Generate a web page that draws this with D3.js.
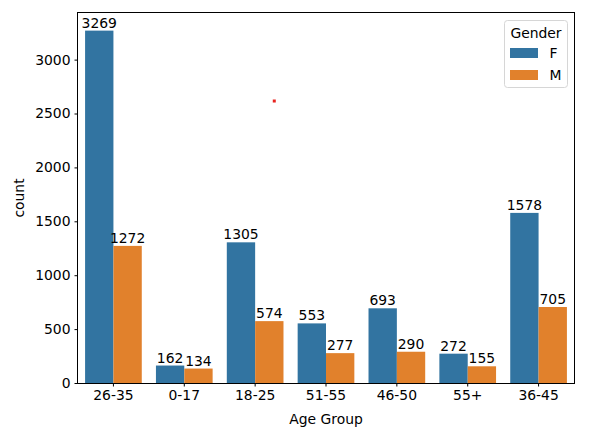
<!DOCTYPE html>
<html>
<head>
<meta charset="utf-8">
<script src="https://cdn.jsdelivr.net/npm/d3@7"></script>
<style>
  body { margin: 0; background: #fff; }
  svg text { font-family: "DejaVu Sans", sans-serif; fill: #000; }
</style>
</head>
<body>
<div id="chart"></div>
<script>
// Age group counts by gender

const ageGroups = ["26-35", "0-17", "18-25", "51-55", "46-50", "55+", "36-45"];
const genders = ["F", "M"];
const femaleCounts = [3269, 162, 1305, 553, 693, 272, 1578];
const maleCounts = [1272, 134, 574, 277, 290, 155, 705];
const yTicks = [0, 500, 1000, 1500, 2000, 2500, 3000];
// stray red marker in the picture (category position, count)
const strayPoint = [2.27, 2616];

const colors = {F: "#3274a1", M: "#e1812c"};
const fontSize = "13.9px";

const width = 591, height = 437;
const margin = {top: 13, right: 17, bottom: 54, left: 78};
const innerW = width - margin.left - margin.right;
const innerH = height - margin.top - margin.bottom;

const svg = d3.select("#chart").append("svg")
    .attr("width", width)
    .attr("height", height);

const g = svg.append("g")
    .attr("transform", "translate(" + margin.left + "," + margin.top + ")");

// scales
const x = d3.scaleBand()
    .domain(ageGroups)
    .range([0, innerW])
    .paddingInner(0.2)
    .paddingOuter(0.1);

const xHue = d3.scaleBand()
    .domain(genders)
    .range([0, x.bandwidth()]);

const xLin = d3.scaleLinear()
    .domain([-0.5, ageGroups.length - 0.5])
    .range([0, innerW]);

const yMax = d3.max(femaleCounts.concat(maleCounts)) * 1.05;
const y = d3.scaleLinear()
    .domain([0, yMax])
    .range([innerH, 0]);

// bars
const rows = ageGroups.map((a, i) => ({group: a, F: femaleCounts[i], M: maleCounts[i]}));

const groups = g.selectAll(".grp").data(rows)
    .enter()
    .append("g")
    .attr("class", "grp")
    .attr("transform", d => "translate(" + x(d.group) + ",0)");

const cells = groups.selectAll(".bar")
    .data(d => genders.map(k => ({key: k, value: d[k]})))
    .enter();

cells.append("rect")
    .attr("class", "bar")
    .attr("x", d => xHue(d.key))
    .attr("width", xHue.bandwidth())
    .attr("y", d => y(d.value))
    .attr("height", d => innerH - y(d.value))
    .attr("fill", d => colors[d.key]);

cells.append("text")
    .attr("x", d => xHue(d.key) + xHue.bandwidth() / 2)
    .attr("y", d => y(d.value) - 3)
    .attr("text-anchor", "middle")
    .attr("font-size", fontSize)
    .text(d => d.value);

// stray point
g.append("rect")
    .attr("x", xLin(strayPoint[0]) - 1.5)
    .attr("y", y(strayPoint[1]) - 1.5)
    .attr("width", 3)
    .attr("height", 3)
    .attr("fill", "#e8231f");

// axes
const xAxis = g.append("g")
    .attr("transform", "translate(0," + innerH + ")")
    .call(d3.axisBottom(x).tickSize(3.5).tickPadding(4));

const yAxis = g.append("g")
    .call(d3.axisLeft(y).tickValues(yTicks).tickFormat(d3.format("d")).tickSize(3.5).tickPadding(4));

[xAxis, yAxis].forEach(a => {
    a.selectAll("text").attr("font-size", fontSize).attr("font-family", "DejaVu Sans");
    a.selectAll("line").attr("stroke", "#000").attr("stroke-width", 1);
    a.select(".domain").remove();
});

// frame
g.append("rect")
    .attr("x", -0.5)
    .attr("y", -0.5)
    .attr("width", innerW + 1)
    .attr("height", innerH + 1)
    .attr("fill", "none")
    .attr("stroke", "#000")
    .attr("stroke-width", 1)
    .attr("shape-rendering", "crispEdges");

// axis titles
svg.append("text")
    .attr("x", margin.left + innerW / 2)
    .attr("y", 424)
    .attr("text-anchor", "middle")
    .attr("font-size", fontSize)
    .text("Age Group");

svg.append("text")
    .attr("transform", "translate(24," + (margin.top + innerH / 2) + ") rotate(-90)")
    .attr("text-anchor", "middle")
    .attr("font-size", fontSize)
    .text("count");

// legend
const legend = svg.append("g")
    .attr("transform", "translate(504.5,20.5)");

legend.append("rect")
    .attr("width", 63)
    .attr("height", 67)
    .attr("rx", 3)
    .attr("fill", "#fff")
    .attr("fill-opacity", 0.8)
    .attr("stroke", "#d6d6d6")
    .attr("stroke-width", 1);

legend.append("text")
    .attr("x", 31.5)
    .attr("y", 17)
    .attr("text-anchor", "middle")
    .attr("font-size", fontSize)
    .text("Gender");

genders.forEach((k, i) => {
    legend.append("rect")
        .attr("x", 5.5)
        .attr("y", 27.5 + i * 22)
        .attr("width", 28)
        .attr("height", 10)
        .attr("fill", colors[k]);
    legend.append("text")
        .attr("x", 45)
        .attr("y", 37 + i * 22)
        .attr("font-size", fontSize)
        .text(k);
});
</script>
</body>
</html>
